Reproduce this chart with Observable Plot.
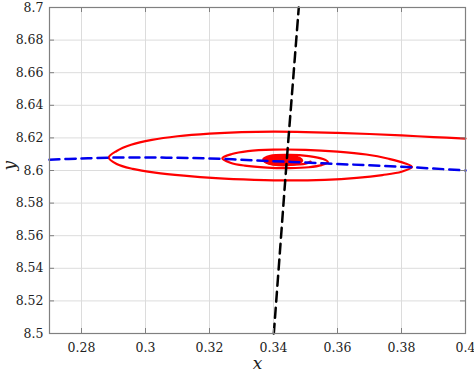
<!DOCTYPE html>
<html>
<head>
<meta charset="utf-8">
<script src="https://cdn.jsdelivr.net/npm/d3@7"></script>
<script src="https://cdn.jsdelivr.net/npm/@observablehq/plot@0.6"></script>
<style>
  html, body { margin: 0; padding: 0; background: #fff; }
</style>
</head>
<body>
<div id="chart"></div>
<script>
// Tick values
const xTicks = [0.28, 0.30, 0.32, 0.34, 0.36, 0.38, 0.40];
const yTicks = [8.50, 8.52, 8.54, 8.56, 8.58, 8.60, 8.62, 8.64, 8.66, 8.68, 8.70];

// Blue dashed curve (nearly horizontal)
const blueX = [0.27, 0.28, 0.29, 0.30, 0.31, 0.32, 0.33, 0.34, 0.35, 0.36, 0.37, 0.38, 0.39, 0.40];
const blueY = [8.6066, 8.6074, 8.6079, 8.6080, 8.6078, 8.6074, 8.6066, 8.6057, 8.6049, 8.6040, 8.6032, 8.6023, 8.6012, 8.6000];

// Black dashed curve (nearly vertical)
const blackX = [0.3401, 0.3420, 0.3439, 0.3459, 0.3479];
const blackY = [8.50, 8.55, 8.60, 8.65, 8.70];

// Red spiral trajectory
const redX = [
  0.400, 0.390, 0.380, 0.370, 0.360, 0.350, 0.340, 0.330, 0.320, 0.310, 0.302, 0.2955, 0.291, 0.2885,
  0.291, 0.296, 0.303, 0.312, 0.322, 0.334, 0.345, 0.356, 0.366, 0.374, 0.380, 0.3833,
  0.381, 0.376, 0.369, 0.360, 0.350, 0.340, 0.332, 0.327, 0.324,
  0.3265, 0.331, 0.338, 0.345, 0.351, 0.3550, 0.3570,
  0.3555, 0.351, 0.345, 0.339, 0.3368,
  0.339, 0.345, 0.350, 0.3516
];
const redY = [
  8.6196, 8.6205, 8.6215, 8.6224, 8.6231, 8.6236, 8.6238, 8.6235, 8.6226, 8.6210, 8.6188, 8.6158, 8.6120, 8.6080,
  8.6040, 8.6010, 8.5987, 8.5968, 8.5953, 8.5943, 8.5939, 8.5943, 8.5955, 8.5972, 8.5992, 8.6021,
  8.6045, 8.6072, 8.6098, 8.6116, 8.6127, 8.6128, 8.6119, 8.6101, 8.6075,
  8.6048, 8.6030, 8.6018, 8.6015, 8.6020, 8.6033, 8.6051,
  8.6070, 8.6088, 8.6096, 8.6090, 8.6068,
  8.6042, 8.6036, 8.6042, 8.6055
];

// Converged red blob (filled core of spiral)
const blobX = [0.3490, 0.3482, 0.3460, 0.3430, 0.3400, 0.3378, 0.3370, 0.3378, 0.3400, 0.3430, 0.3460, 0.3482];
const blobY = [8.6062, 8.6078, 8.6089, 8.6093, 8.6089, 8.6078, 8.6062, 8.6046, 8.6035, 8.6031, 8.6035, 8.6046];

const zip = (xs, ys) => xs.map((x, i) => ({x, y: ys[i]}));
const blue = zip(blueX, blueY);
const black = zip(blackX, blackY);
const red = zip(redX, redY);
const blob = zip(blobX, blobY);

const fmt = d => String(+d.toFixed(2));
const serif = "DejaVu Serif";

const chart = Plot.plot({
  width: 474,
  height: 372,
  marginLeft: 49,
  marginRight: 9,
  marginTop: 7,
  marginBottom: 39,
  style: "font-family: 'DejaVu Serif'; font-size: 12.5px; background: #fff;",
  x: { domain: [0.27, 0.40], ticks: xTicks, tickFormat: fmt, label: null },
  y: { domain: [8.5, 8.7], ticks: yTicks, tickFormat: fmt, label: null },
  marks: [
    Plot.gridX(xTicks, { stroke: "#dcdcdc", strokeOpacity: 1 }),
    Plot.gridY(yTicks, { stroke: "#dcdcdc", strokeOpacity: 1 }),
    Plot.line(blob, { x: "x", y: "y", curve: "catmull-rom-closed", fill: "#f00", stroke: "#f00", strokeWidth: 2 }),
    Plot.line(red, { x: "x", y: "y", curve: "catmull-rom", stroke: "#f00", strokeWidth: 2.2 }),
    Plot.line(blue, { x: "x", y: "y", curve: "catmull-rom", stroke: "#0000ee", strokeWidth: 2.5, strokeDasharray: "10,6" }),
    Plot.line(black, { x: "x", y: "y", curve: "catmull-rom", stroke: "#000", strokeWidth: 2.5, strokeDasharray: "10,6" }),
    Plot.frame({ stroke: "#808080", strokeWidth: 1.2 }),
    Plot.axisX(xTicks, { anchor: "bottom", tickSize: 0, tickPadding: 10, tickFormat: fmt, label: null, fill: "#222", fontSize: 12.5, fontFamily: serif }),
    Plot.axisY(yTicks, { anchor: "left", tickSize: 0, tickPadding: 6, tickFormat: fmt, label: null, fill: "#222", fontSize: 12.5, fontFamily: serif }),
    Plot.tickX(xTicks, { x: d => d, insetTop: 321, stroke: "#808080" }),
    Plot.tickX(xTicks, { x: d => d, insetBottom: 321, stroke: "#808080" }),
    Plot.tickY(yTicks, { y: d => d, insetRight: 411, stroke: "#808080" }),
    Plot.tickY(yTicks, { y: d => d, insetLeft: 411, stroke: "#808080" }),
    Plot.text(["x"], { frameAnchor: "bottom", lineAnchor: "middle", dy: 30, fontStyle: "italic", fontSize: 17, fontFamily: serif, fill: "#222" }),
    Plot.text(["y"], { frameAnchor: "left", lineAnchor: "middle", dx: -40, rotate: -90, fontStyle: "italic", fontSize: 17, fontFamily: serif, fill: "#222" })
  ]
});

document.getElementById("chart").appendChild(chart);
</script>
</body>
</html>
